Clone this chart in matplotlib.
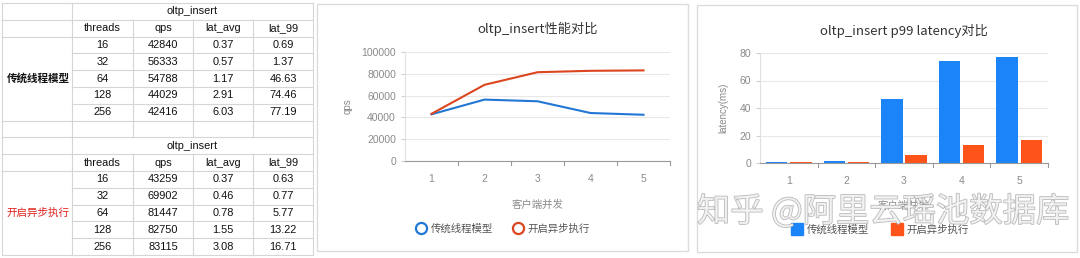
import numpy as np
import matplotlib.pyplot as plt
from matplotlib.patches import Rectangle
from matplotlib.lines import Line2D
import matplotlib.patheffects as pe

plt.rcParams['font.family'] = ['Liberation Sans', 'Noto Sans CJK SC', 'DejaVu Sans']

# data
threads = [16, 32, 64, 128, 256]
qps_thread = [42840, 56333, 54788, 44029, 42416]
lat_avg_thread = [0.37, 0.57, 1.17, 2.91, 6.03]
lat99_thread = [0.69, 1.37, 46.63, 74.46, 77.19]
qps_async = [43259, 69902, 81447, 82750, 83115]
lat_avg_async = [0.37, 0.46, 0.78, 1.55, 3.08]
lat99_async = [0.63, 0.77, 5.77, 13.22, 16.71]
categories = ['1', '2', '3', '4', '5']
series_names = ['传统线程模型', '开启异步执行']
table_cols = ['threads', 'qps', 'lat_avg', 'lat_99']

W, H = 1080, 258
fig = plt.figure(figsize=(W / 100, H / 100), dpi=100)

# background axes in pixel coordinates (y down)
bg = fig.add_axes([0, 0, 1, 1])
bg.set_xlim(0, W)
bg.set_ylim(H, 0)
bg.axis('off')

GRID = '#d6d6d6'
TXT = '#111111'
top, rh = 3.0, 16.8
xs = [2, 72, 133, 193, 253, 313]
fs_tab = 7.9

def ry(i):
    return top + i * rh

# horizontal lines
for i in range(16):
    y = ry(i)
    in_block = (3 <= i <= 6) or (11 <= i <= 14)
    x0 = xs[1] if in_block else xs[0]
    bg.plot([x0, xs[-1]], [y, y], color=GRID, lw=0.8)
# vertical lines
bg.plot([xs[0], xs[0]], [ry(0), ry(15)], color=GRID, lw=0.8)
bg.plot([xs[1], xs[1]], [ry(0), ry(15)], color=GRID, lw=0.8)
bg.plot([xs[-1], xs[-1]], [ry(0), ry(15)], color=GRID, lw=0.8)
for x in xs[2:-1]:
    for a, b in [(1, 8), (9, 15)]:
        bg.plot([x, x], [ry(a), ry(b)], color=GRID, lw=0.8)

def cx(j):
    return (xs[j + 1] + xs[j + 2]) / 2

def block(r0, label, label_color, qps, lat_avg, lat99):
    bg.text((xs[1] + xs[-1]) / 2, ry(r0) + rh / 2, 'oltp_insert', ha='center', va='center',
            fontsize=fs_tab, color=TXT)
    for j, c in enumerate(table_cols):
        bg.text(cx(j), ry(r0 + 1) + rh / 2, c, ha='center', va='center', fontsize=fs_tab, color=TXT)
    for k in range(5):
        yc = ry(r0 + 2 + k) + rh / 2
        vals = [str(threads[k]), str(qps[k]), f'{lat_avg[k]:.2f}', f'{lat99[k]:.2f}']
        for j, v in enumerate(vals):
            bg.text(cx(j), yc, v, ha='center', va='center', fontsize=fs_tab, color=TXT)
    bg.text((xs[0] + xs[1]) / 2 + 1, ry(r0 + 4) + rh / 2, label, ha='center', va='center',
            fontsize=7.6, color=label_color, fontweight='bold' if label_color == TXT else 'normal')

block(0, series_names[0], TXT, qps_thread, lat_avg_thread, lat99_thread)
block(8, series_names[1], '#e0201c', qps_async, lat_avg_async, lat99_async)

# panel frames
bg.add_patch(Rectangle((317, 4), 371, 247, fill=False, ec='#dcdcdc', lw=1))
bg.add_patch(Rectangle((697, 5), 380, 247, fill=False, ec='#dcdcdc', lw=1))

BLUE_L, RED_L = '#2277d4', '#dc451f'
BLUE_B, RED_B = '#1a84f8', '#ff5419'
TICK = '#8a8a8a'

def style(ax, ylim, yticks):
    ax.set_ylim(*ylim)
    ax.set_yticks(yticks)
    ax.set_xlim(-0.5, 4.5)
    ax.set_xticks(range(5))
    ax.set_xticklabels(categories)
    ax.grid(axis='y', color='#e8e8e8', lw=0.8)
    ax.set_axisbelow(True)
    for s in ['top', 'right']:
        ax.spines[s].set_visible(False)
    ax.spines['left'].set_color('#e0e0e0')
    ax.spines['bottom'].set_color('#9a9a9a')
    ax.tick_params(axis='x', length=0, pad=9, labelsize=7.5, labelcolor=TICK)
    ax.tick_params(axis='y', length=3, color='#d0d0d0', labelsize=7.5, labelcolor=TICK)
    for b in np.arange(0.5, 5, 1.0):
        ax.plot([b, b], [0, -0.035], transform=ax.get_xaxis_transform(), color='#9a9a9a',
                lw=0.8, clip_on=False)

# middle line chart
ax1 = fig.add_axes([405 / W, 97 / H, 265 / W, 109 / H])
x = np.arange(len(categories))
ax1.plot(x, qps_thread, color=BLUE_L, lw=1.5)
ax1.plot(x, qps_async, color=RED_L, lw=1.5)
style(ax1, (0, 100000), range(0, 100001, 20000))
ax1.set_title('oltp_insert性能对比', fontsize=9.5, color='#333333', pad=14,
              fontfamily=['Noto Sans CJK SC'])
ax1.set_ylabel('qps', fontsize=7, color=TICK, labelpad=6)
ax1.set_xlabel('客户端并发', fontsize=7.5, color=TICK, labelpad=12)
h1 = [Line2D([], [], ls='none', marker='o', ms=8, mfc='white', mec=c, mew=1.6)
      for c in (BLUE_L, RED_L)]
ax1.legend(h1, series_names, loc='center', ncol=2, frameon=False, fontsize=7.5,
           bbox_to_anchor=(502 / W, 1 - 229 / H), bbox_transform=fig.transFigure,
           handletextpad=0.3, columnspacing=1.8, handlelength=1.2, labelcolor='#555555')

# right bar chart
ax2 = fig.add_axes([760 / W, 95 / H, 288 / W, 110 / H])
bw = 0.37
ax2.bar(x - 0.21, lat99_thread, width=bw, color=BLUE_B)
ax2.bar(x + 0.21, lat99_async, width=bw, color=RED_B)
style(ax2, (0, 80), range(0, 81, 20))
ax2.set_title('oltp_insert p99 latency对比', fontsize=9.5, color='#333333', pad=13,
              fontfamily=['Noto Sans CJK SC'])
ax2.set_ylabel('latency(ms)', fontsize=7, color=TICK, labelpad=8)
ax2.set_xlabel('客户端并发', fontsize=7.5, color=TICK, labelpad=11)
h2 = [Line2D([], [], ls='none', marker='s', ms=8, mfc=c, mec=c) for c in (BLUE_B, RED_B)]
ax2.legend(h2, series_names, loc='center', ncol=2, frameon=False, fontsize=7.5,
           bbox_to_anchor=(880 / W, 1 - 230 / H), bbox_transform=fig.transFigure,
           handletextpad=0.3, columnspacing=2.1, handlelength=1.2, labelcolor='#555555')

# watermark
fig.text(697 / W, 1 - 212 / H, '知乎 @阿里云瑶池数据库', ha='left', va='center',
         fontsize=24, color='#f4f4f4', alpha=0.85, zorder=20,
         fontfamily=['Noto Sans CJK SC'],
         path_effects=[pe.withStroke(linewidth=1.0, foreground='#a8a8a8')])

fig.savefig('out.png', dpi=100)
